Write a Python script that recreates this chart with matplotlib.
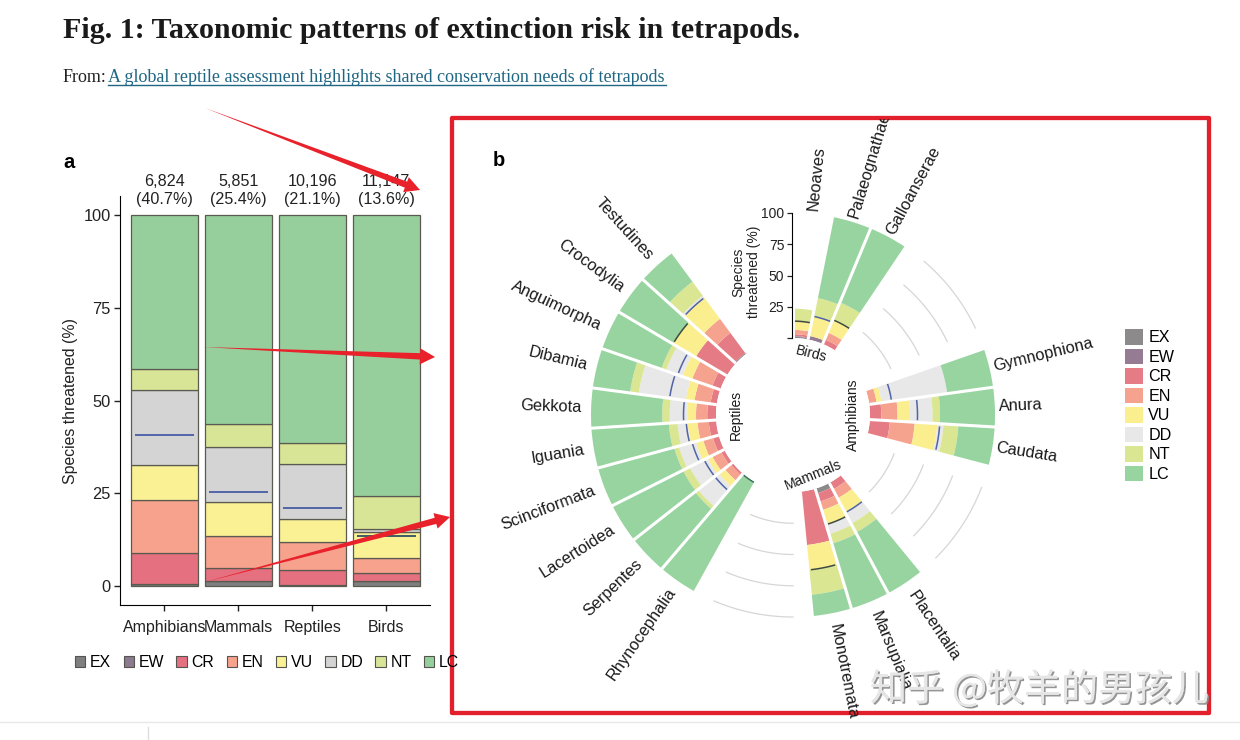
import numpy as np
import matplotlib
matplotlib.use("Agg")
import matplotlib.pyplot as plt
import matplotlib.patheffects as pe
from matplotlib.patches import Patch, Polygon, Rectangle
from matplotlib.transforms import Bbox

plt.rcParams['font.family'] = ['Liberation Sans', 'DejaVu Sans']

W, H = 1240, 740

categories = ['EX', 'EW', 'CR', 'EN', 'VU', 'DD', 'NT', 'LC']
bar_colors = ['#7f7f7f', '#8c7a8e', '#e5707f', '#f6a28c', '#faf094', '#d4d4d4', '#d9e596', '#96cf9c']
wedge_colors = ['#8d8a8c', '#957c92', '#e57c85', '#f5a28f', '#fbee8f', '#e8e8e8', '#dbe693', '#97d49f']

# panel a
classes = ['Amphibians', 'Mammals', 'Reptiles', 'Birds']
class_counts = ['6,824\n(40.7%)', '5,851\n(25.4%)', '10,196\n(21.1%)', '11,147\n(13.6%)']
ex = [0.5, 1.4, 0.2, 1.4]
ew = [0.0, 0.0, 0.0, 0.1]
cr = [8.4, 3.5, 4.2, 1.9]
en = [14.3, 8.6, 7.6, 4.1]
vu = [9.5, 9.2, 6.2, 7.1]
dd = [20.3, 14.9, 14.8, 0.7]
nt = [5.5, 6.0, 5.6, 9.0]
lc = [41.5, 56.4, 61.4, 75.7]
threatened = [40.7, 25.4, 21.1, 13.6]

# panel b, each row is EX EW CR EN VU DD NT LC
reptile_taxa = ['Testudines', 'Crocodylia', 'Anguimorpha', 'Dibamia', 'Gekkota', 'Iguania',
                'Scinciformata', 'Lacertoidea', 'Serpentes', 'Rhynocephalia']
reptile_stacks = [[1, 0, 20, 14, 21, 2, 14, 28],
                  [0, 0, 29, 0, 21, 0, 0, 50],
                  [0, 0, 7, 17, 8, 14, 4, 50],
                  [0, 0, 5, 13, 7, 38, 7, 30],
                  [0, 0, 7, 9, 7, 14, 6, 57],
                  [0, 0, 6, 9, 8, 8, 7, 62],
                  [0, 0, 5, 8, 6, 14, 4, 63],
                  [0, 0, 3, 8, 4, 16, 6, 63],
                  [0, 0, 2, 6, 6, 21, 3, 62],
                  [0, 0, 0, 0, 0, 0, 0, 100]]
reptile_lines = [56, 50, 36, 38, 26, 24, 22, 18, 18, 0.6]

amphibian_taxa = ['Caudata', 'Anura', 'Gymnophiona']
amphibian_stacks = [[0, 0, 16, 20, 18, 5, 12, 29],
                    [0, 0, 9, 13, 10, 18, 6, 44],
                    [0, 0, 0, 6, 4, 53, 0, 37]]
amphibian_lines = [56, 38, 18]

mammal_taxa = ['Monotremata', 'Marsupialia', 'Placentalia']
mammal_stacks = [[0, 0, 43, 0, 20, 0, 20, 17],
                 [4, 0, 7, 7, 12, 8, 8, 54],
                 [0, 0, 6, 8, 13, 10, 8, 55]]
mammal_lines = [63, 30, 27]

bird_taxa = ['Neoaves', 'Palaeognathae', 'Galloanserae']
bird_stacks = [[1, 0.5, 1.5, 3.5, 7, 0, 10, 0],
               [0, 3, 0, 0, 16, 0, 15, 66],
               [0, 0, 4, 6, 11, 0, 15, 64]]
bird_lines = [13.5, 19, 21]

line_blue = '#5064a8'
line_dark = '#3f4a45'

fig = plt.figure(figsize=(W / 100, H / 100), dpi=100, facecolor='white')

# pixel overlay for the page furniture
page = fig.add_axes([0, 0, 1, 1], zorder=2)
page.set_xlim(0, W)
page.set_ylim(H, 0)
page.axis('off')
page.patch.set_alpha(0)

page.text(63, 30, 'Fig. 1: Taxonomic patterns of extinction risk in tetrapods.', family='Liberation Serif',
          weight='bold', fontsize=21.6, va='center', color='#1a1a1a')
page.text(63, 77, 'From:', family='Liberation Serif', fontsize=13, va='center', color='#222222')
page.text(108, 77, 'A global reptile assessment highlights shared conservation needs of tetrapods',
          family='Liberation Serif', fontsize=13, va='center', color='#1f6684')
page.plot([108, 666], [84.5, 84.5], color='#1f6684', lw=1)
page.text(63, 162, 'a', weight='bold', fontsize=14.5, va='center')
page.text(493, 161, 'b', weight='bold', fontsize=14.5, va='center')
page.plot([0, W], [722, 722], color='#e8e8e8', lw=1)
page.plot([148, 148], [727, H], color='#dddddd', lw=1)

page.add_patch(Rectangle((451.5, 117.5), 757, 595, fill=False, ec='#e2202c', lw=3.1, joinstyle='round'))


def red_arrow(x0, y0, x1, y1):
    # tapered shaft, thin at the tail
    d = np.array([x1 - x0, y1 - y0], dtype=float)
    length = np.hypot(*d)
    d /= length
    n = np.array([-d[1], d[0]])
    tail = np.array([x0, y0])
    base = tail + d * (length - 15)
    pts = [tail, base + n * 3.2, base + n * 8, np.array([x1, y1]), base - n * 8, base - n * 3.2]
    page.add_patch(Polygon(pts, closed=True, fc='#e8212b', ec='none'))


red_arrow(205, 108, 420, 190)
red_arrow(203, 347, 435, 357)
red_arrow(205, 582, 450, 517)

# panel a, stacked bars
ax = fig.add_axes([120 / W, (H - 605) / H, 310 / W, 409 / H], zorder=1)
x = np.arange(len(classes))
bottom = np.zeros(len(classes))
for vals, color in zip([ex, ew, cr, en, vu, dd, nt, lc], bar_colors):
    ax.bar(x, vals, 0.905, bottom=bottom, color=color, edgecolor='#5a5a50', linewidth=0.9)
    bottom += np.array(vals)
ax.hlines(threatened[:3], x[:3] - 0.4, x[:3] + 0.4, color=line_blue, lw=1.4)
ax.hlines(threatened[3], x[3] - 0.4, x[3] + 0.4, color='#3d5a66', lw=1.4)
ax.set_xlim(-0.602, 3.593)
ax.set_ylim(-5.1, 105.2)
ax.set_yticks([0, 25, 50, 75, 100])
ax.set_xticks(x)
ax.set_xticklabels(classes)
ax.tick_params(labelsize=11.8, length=4.5, width=1, color='#222222', labelcolor='#222222', pad=2)
ax.tick_params(axis='x', pad=6, labelsize=11.5)
ax.set_ylabel('Species threatened (%)', fontsize=11.4, color='#222222', labelpad=4)
ax.spines[['top', 'right']].set_visible(False)
for i, label in enumerate(class_counts):
    ax.text(x[i], 102.2, label, ha='center', va='bottom', fontsize=11.6, color='#222222', linespacing=1.25)

handles = [Patch(facecolor=c, edgecolor='#55554f', linewidth=0.8) for c in bar_colors]
fig.legend(handles, categories, loc='lower left', bbox_to_anchor=(75 / W, (H - 670) / H), ncol=8,
           frameon=False, fontsize=11.4, handlelength=0.65, handleheight=0.65, handletextpad=0.3,
           columnspacing=0.78, borderpad=0, borderaxespad=0)

# panel b, circular stacks around (793, 415)
cx, cy, R = 793, 415, 207
polar = fig.add_axes([(cx - R) / W, (H - cy - R) / H, 2 * R / W, 2 * R / H], projection='polar', zorder=3)
polar.set_axis_off()
polar.patch.set_alpha(0)
polar.set_rorigin(-61.6)
polar.set_ylim(0, 104)


def draw_group(taxa, stacks, lines, start, step, line_colors, label_r=108):
    for i, (name, stack) in enumerate(zip(taxa, stacks)):
        a0 = start + step * i
        mid = np.radians(a0 + step / 2)
        base = 0
        for val, color in zip(stack, wedge_colors):
            if val > 0:
                polar.bar(mid, val, np.radians(abs(step)), bottom=base, color=color, linewidth=0)
                base += val
        span = np.radians(np.linspace(a0 + step * 0.12, a0 + step * 0.88, 12))
        polar.plot(span, np.full(12, lines[i]), color=line_colors[i], lw=1.1)
    for i in range(len(taxa) + 1):
        edge = np.radians(start + step * i)
        polar.plot([edge, edge], [-4, 104], color='white', lw=2.2)
    for i, name in enumerate(taxa):
        deg = (start + step * (i + 0.5)) % 360
        left = 90 < deg < 270
        rot = deg - 180 if left else deg
        t = polar.text(np.radians(deg), label_r, name, fontsize=11.8, color='#1a1a1a', rotation=rot,
                       rotation_mode='anchor', ha='right' if left else 'left', va='center')
        if name == 'Palaeognathae':
            t.set_clip_on(True)
            t.set_clip_path(None)
            t.set_clip_box(Bbox([[0, 0], [W, H - 119]]))


draw_group(reptile_taxa, reptile_stacks, reptile_lines, 126.5, 11.45,
           [line_blue, line_dark] + [line_blue] * 7 + ['#3d6a5a'])
draw_group(amphibian_taxa, amphibian_stacks, amphibian_lines, -14.7, 11.3, [line_blue] * 3, label_r=103)
draw_group(mammal_taxa, mammal_stacks, mammal_lines, 275.5, 11.3, [line_dark, line_dark, line_blue], label_r=109)
draw_group(bird_taxa, bird_stacks, bird_lines, 90, -11.3, [line_dark, line_blue, line_dark], label_r=103)

# grey guide arcs in the gaps between the groups
for a0, a1 in [(25.5, 49.5), (-45, -21), (247, 270)]:
    span = np.radians(np.linspace(a0, a1, 40))
    for level in [25, 50, 75, 100]:
        polar.plot(span, np.full(40, level), color='#d6d6d6', lw=0.9)

polar.text(np.radians(180), -16, 'Reptiles', fontsize=10, rotation=90, ha='center', va='center', color='#1a1a1a')
polar.text(np.radians(0), -13.5, 'Amphibians', fontsize=10, rotation=90, ha='center', va='center', color='#1a1a1a')
polar.text(np.radians(288.5), -11, 'Mammals', fontsize=10, rotation=22, ha='center', va='center', color='#1a1a1a')
polar.text(np.radians(73), -10.5, 'Birds', fontsize=10, rotation=-14, ha='center', va='center', color='#1a1a1a')

# radial scale for panel b
scale = fig.add_axes([792 / W, (H - 338) / H, 8 / W, 125 / H], zorder=3)
scale.patch.set_alpha(0)
scale.set_ylim(0, 100)
scale.set_xticks([])
scale.set_yticks([0, 25, 50, 75, 100])
scale.set_yticklabels(['', '25', '50', '75', '100'])
scale.tick_params(labelsize=10, length=3.5, width=0.9, pad=2, color='#222222', labelcolor='#222222')
scale.spines[['top', 'right', 'bottom']].set_visible(False)
page.text(746, 272, 'Species\nthreatened (%)', rotation=90, fontsize=10, ha='center', va='center',
          color='#222222', linespacing=1.15, zorder=6)

swatches = [Patch(facecolor=c, edgecolor='none') for c in wedge_colors]
fig.legend(swatches, categories, loc='upper left', bbox_to_anchor=(1125 / W, (H - 329) / H), ncol=1,
           frameon=False, fontsize=11.6, handlelength=1.12, handleheight=1.12, handletextpad=0.33,
           labelspacing=0.2, borderpad=0, borderaxespad=0)

# watermark
fig.text(870 / W, (H - 690) / H, '知乎 @牧羊的男孩儿', family=['Noto Sans CJK SC', 'DejaVu Sans'], fontsize=26.6,
         color='#e6e6e6', va='center', zorder=5,
         path_effects=[pe.withSimplePatchShadow(offset=(1.2, -1.2), shadow_rgbFace='#8a8a8a', alpha=0.9), pe.Normal()])

fig.savefig('out.png', dpi=100)
